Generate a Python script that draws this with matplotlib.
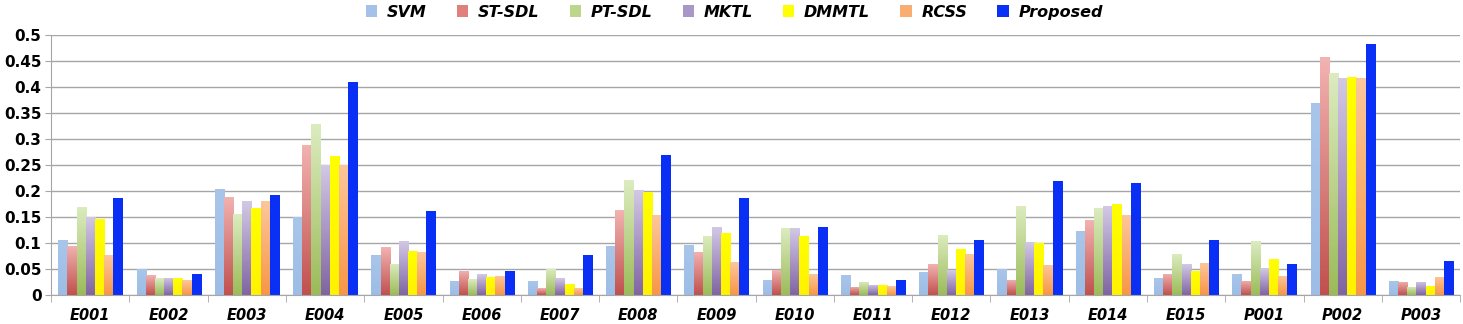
import numpy as np
import matplotlib
matplotlib.use("Agg")
import matplotlib.pyplot as plt
from matplotlib.colors import LinearSegmentedColormap
from matplotlib.patches import Patch

categories = ["E001", "E002", "E003", "E004", "E005", "E006", "E007", "E008", "E009",
              "E010", "E011", "E012", "E013", "E014", "E015", "P001", "P002", "P003"]
series_names = ["SVM", "ST-SDL", "PT-SDL", "MKTL", "DMMTL", "RCSS", "Proposed"]

svm      = [0.106, 0.050, 0.203, 0.150, 0.076, 0.026, 0.026, 0.094, 0.096, 0.029, 0.038, 0.045, 0.050, 0.124, 0.032, 0.041, 0.370, 0.027]
st_sdl   = [0.095, 0.038, 0.189, 0.289, 0.092, 0.047, 0.013, 0.163, 0.083, 0.048, 0.016, 0.059, 0.029, 0.144, 0.041, 0.027, 0.457, 0.025]
pt_sdl   = [0.170, 0.032, 0.155, 0.328, 0.060, 0.030, 0.050, 0.221, 0.114, 0.128, 0.025, 0.116, 0.172, 0.168, 0.078, 0.103, 0.427, 0.016]
mktl     = [0.150, 0.033, 0.180, 0.250, 0.103, 0.040, 0.032, 0.201, 0.130, 0.128, 0.020, 0.048, 0.101, 0.171, 0.059, 0.051, 0.417, 0.025]
dmmtl    = [0.147, 0.032, 0.167, 0.268, 0.084, 0.035, 0.022, 0.198, 0.119, 0.114, 0.020, 0.089, 0.100, 0.175, 0.046, 0.069, 0.420, 0.017]
rcss     = [0.076, 0.028, 0.180, 0.250, 0.082, 0.037, 0.013, 0.153, 0.063, 0.040, 0.017, 0.078, 0.058, 0.154, 0.061, 0.037, 0.417, 0.035]
proposed = [0.187, 0.040, 0.193, 0.409, 0.162, 0.047, 0.077, 0.270, 0.187, 0.130, 0.029, 0.105, 0.219, 0.216, 0.105, 0.060, 0.483, 0.066]

values = [svm, st_sdl, pt_sdl, mktl, dmmtl, rcss, proposed]
# (top colour, bottom colour) for each series' vertical gradient
grad_colors = [("#a9c6ea", "#9dbde6"),
               ("#f2b3b1", "#c0504d"),
               ("#dcecc0", "#9bbb59"),
               ("#d2c9e6", "#8064a2"),
               ("#ffff00", "#fff200"),
               ("#fcc79b", "#f79646"),
               ("#0a2ff5", "#0a2ff5")]
legend_colors = ["#a4c2e8", "#e0807d", "#bcd68c", "#a898c8", "#ffff00", "#f9ad70", "#0a2ff5"]

fig = plt.figure(figsize=(14.63, 3.24), dpi=100)
ax = fig.add_axes([0.035, 0.0895, 0.963, 0.8025])

n = len(series_names)
x = np.arange(len(categories))
group_w = 0.82
bw = group_w / n
grad = np.linspace(0, 1, 256).reshape(-1, 1)

for i, (name, vals, (ctop, cbot)) in enumerate(zip(series_names, values, grad_colors)):
    offs = x - group_w / 2 + bw * (i + 0.5)
    bars = ax.bar(offs, vals, width=bw, color=cbot, edgecolor="none", zorder=2, label=name)
    cmap = LinearSegmentedColormap.from_list(name, [cbot, ctop])
    for b in bars:
        x0, y0 = b.get_x(), b.get_y()
        w, h = b.get_width(), b.get_height()
        im = ax.imshow(grad, extent=[x0, x0 + w, y0, y0 + h], origin="lower",
                       cmap=cmap, aspect="auto", zorder=2.5, interpolation="bilinear")
        im.set_clip_path(b)

ax.set_xlim(-0.5, len(categories) - 0.5)
ax.set_ylim(0, 0.5)
ax.set_yticks(np.arange(0, 0.501, 0.05))
ax.set_yticklabels(["0", "0.05", "0.1", "0.15", "0.2", "0.25", "0.3", "0.35", "0.4", "0.45", "0.5"],
                   fontsize=11, fontweight="bold")
ax.yaxis.grid(True, color="#a6a6a6", linewidth=1.0, zorder=0)
ax.set_axisbelow(True)

ax.set_xticks(x)
ax.set_xticklabels(categories, fontsize=10.5, fontweight="bold", fontstyle="italic")
ax.tick_params(axis="x", length=0, pad=9)
ax.set_xticks(np.arange(-0.5, len(categories), 1), minor=True)
ax.tick_params(axis="x", which="minor", length=5, color="#a6a6a6")
ax.tick_params(axis="y", length=4, color="#a6a6a6", pad=3)

for s in ["top", "right"]:
    ax.spines[s].set_visible(False)
ax.spines["left"].set_color("#a6a6a6")
ax.spines["bottom"].set_color("#a6a6a6")

handles = [Patch(facecolor=c, edgecolor="none") for c in legend_colors]
leg = fig.legend(handles=handles, labels=series_names, loc="upper center",
                 bbox_to_anchor=(0.502, 1.03), ncol=7, frameon=False,
                 prop={"weight": "bold", "style": "italic", "size": 11.5},
                 handlelength=0.7, handleheight=0.7, columnspacing=1.9, handletextpad=0.6)

fig.savefig("out.png", dpi=100)
